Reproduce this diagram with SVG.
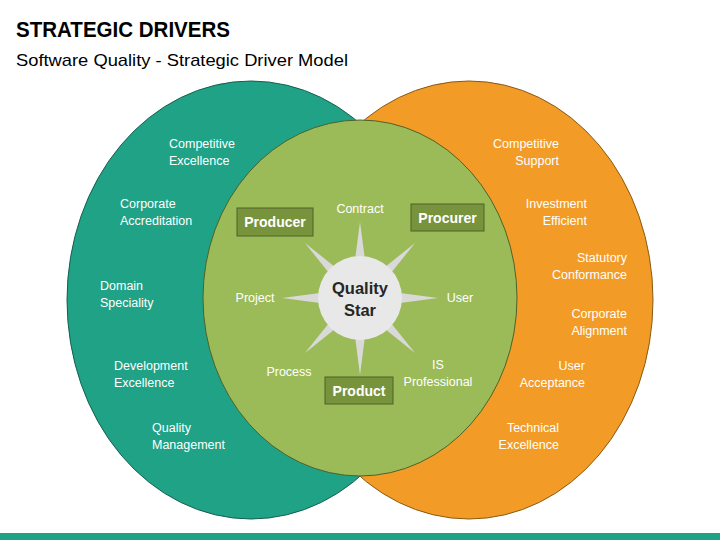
<svg xmlns="http://www.w3.org/2000/svg" width="720" height="540" viewBox="0 0 720 540">
<style>
.t{font-family:"Liberation Sans",Arial,sans-serif;fill:#fff;font-size:12.5px}
.r{text-anchor:end}
.m{text-anchor:middle}
.box{fill:#77933c;stroke:#4f6228;stroke-width:1}
.bl{font-family:"Liberation Sans",Arial,sans-serif;fill:#fff;font-size:14px;font-weight:bold;text-anchor:middle}
.ray{fill:#d9d9d9}
</style>
<rect width="720" height="540" fill="#fff"/>
<text x="16" y="37" font-family="Liberation Sans,Arial,sans-serif" font-weight="bold" font-size="22" fill="#000" textLength="214" lengthAdjust="spacingAndGlyphs">STRATEGIC DRIVERS</text>
<text x="16" y="66" font-family="Liberation Sans,Arial,sans-serif" font-size="17" fill="#000" textLength="332" lengthAdjust="spacingAndGlyphs">Software Quality - Strategic Driver Model</text>
<rect x="0" y="533" width="720" height="7" fill="#1fa286"/>
<g id="teal">
<ellipse cx="251" cy="300" rx="184" ry="219" fill="#1fa286" stroke="#14604f" stroke-width="1"/>
<text class="t" x="169" y="148">Competitive</text><text class="t" x="169" y="165">Excellence</text>
<text class="t" x="120" y="208">Corporate</text><text class="t" x="120" y="225">Accreditation</text>
<text class="t" x="100" y="290">Domain</text><text class="t" x="100" y="307">Speciality</text>
<text class="t" x="114" y="370">Development</text><text class="t" x="114" y="387">Excellence</text>
<text class="t" x="152" y="432">Quality</text><text class="t" x="152" y="449">Management</text>
</g>
<g id="orange">
<ellipse cx="469" cy="300" rx="184" ry="219" fill="#f29b26" stroke="#8a5a14" stroke-width="1"/>
<text class="t r" x="559" y="148">Competitive</text><text class="t r" x="559" y="165">Support</text>
<text class="t r" x="587" y="208">Investment</text><text class="t r" x="587" y="225">Efficient</text>
<text class="t r" x="627" y="262">Statutory</text><text class="t r" x="627" y="279">Conformance</text>
<text class="t r" x="627" y="318">Corporate</text><text class="t r" x="627" y="335">Alignment</text>
<text class="t r" x="585" y="370">User</text><text class="t r" x="585" y="387">Acceptance</text>
<text class="t r" x="559" y="432">Technical</text><text class="t r" x="559" y="449">Excellence</text>
</g>
<g id="green">
<ellipse cx="360" cy="298" rx="157" ry="178" fill="#9bbb59" stroke="#4f6228" stroke-width="1"/>
</g>
<g id="star">
<polygon class="ray" points="360,222 365,260 355,260"/>
<polygon class="ray" points="360,375 365,336 355,336"/>
<polygon class="ray" points="282,298 320,293 320,303"/>
<polygon class="ray" points="438,298 400,293 400,303"/>
<polygon class="ray" points="305,243 335,267 329,273"/>
<polygon class="ray" points="415,243 391,273 385,267"/>
<polygon class="ray" points="305,353 329,323 335,329"/>
<polygon class="ray" points="415,353 385,329 391,323"/>
<circle cx="360" cy="298" r="42" fill="#e8e8e8"/>
<text x="360" y="294" font-family="Liberation Sans,Arial,sans-serif" font-size="16.5" font-weight="bold" fill="#262626" text-anchor="middle">Quality</text>
<text x="360" y="316" font-family="Liberation Sans,Arial,sans-serif" font-size="16.5" font-weight="bold" fill="#262626" text-anchor="middle">Star</text>
</g>
<g id="labels">
<text class="t m" x="360" y="213">Contract</text>
<text class="t m" x="255" y="302">Project</text>
<text class="t m" x="460" y="302">User</text>
<text class="t m" x="289" y="376">Process</text>
<text class="t m" x="438" y="369">IS</text>
<text class="t m" x="438" y="386">Professional</text>
</g>
<g id="producer"><rect class="box" x="237" y="208" width="76" height="28"/><text class="bl" x="275" y="227">Producer</text></g>
<g id="procurer"><rect class="box" x="411" y="204" width="73" height="27"/><text class="bl" x="447.5" y="223">Procurer</text></g>
<g id="product"><rect class="box" x="325" y="377" width="68" height="27"/><text class="bl" x="359" y="396">Product</text></g>
</svg>
